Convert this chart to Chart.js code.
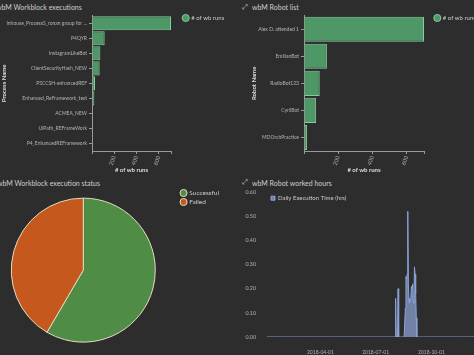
<!DOCTYPE html>
<html><head><meta charset="utf-8">
<script src="https://cdn.jsdelivr.net/npm/chart.js@4.4.0/dist/chart.umd.min.js"></script>
<style>
html,body{margin:0;padding:0;background:#2d2d2d;overflow:hidden;width:474px;height:355px;position:relative;}
canvas{position:absolute;}
.t{position:absolute;font-family:Lato;font-size:7px;line-height:10px;color:#cfcfcf;white-space:nowrap;}
.i{position:absolute;font-family:"DejaVu Sans";font-size:7px;line-height:10px;color:#cfcfcf;}
</style></head><body>
<div class="t" style="left:-4px;top:2px">wbM Workblock executions</div>
<div class="i" style="left:242px;top:2px">⤢</div>
<div class="t" style="left:252px;top:2px">wbM Robot list</div>
<div class="t" style="left:-3px;top:178px">wbM Workblock execution status</div>
<div class="i" style="left:242px;top:177px">⤢</div>
<div class="t" style="left:252px;top:178px">wbM Robot worked hours</div>

<canvas id="c1" width="228" height="175" style="left:0;top:0"></canvas>
<canvas id="c2" width="232" height="175" style="left:250px;top:0"></canvas>
<canvas id="c3" width="241" height="178" style="left:-12px;top:175px"></canvas>
<canvas id="c4" width="243" height="180" style="left:237px;top:175px"></canvas>

<script>
// ---- data ----
const processNames = ["Inhouse_ProcessS_ronan group for ...", "P4QYR", "InstagramLikeBot", "ClientSecurityHash_NEW", "PSCCSH-enhancedREF", "Enhanced_ReFramework_test", "ACMEA_NEW", "UiPath_REFrameWork", "P4_EnhancedREFramework"];
const processRuns = [711, 114, 75, 69, 27, 21, 9, 5, 3];

const robotNames = ["Alex D. attended 1", "EmilianBot", "RadioBot123", "CyrilBot", "MDOrchPractice"];
const robotRuns = [702, 134, 92, 71, 18];

const statusLabels = ["Successful", "Failed"];
const statusCounts = [604, 430];

const hoursStart = "2018-01-03";
const hoursEnd = "2018-12-20";
const hoursDates = ["2018-08-03","2018-08-07","2018-08-19","2018-08-20","2018-08-21","2018-08-22","2018-08-23","2018-08-24","2018-08-25","2018-08-26","2018-08-27","2018-08-28","2018-08-29","2018-08-30","2018-08-31","2018-09-01","2018-09-02","2018-09-03","2018-09-04","2018-09-05","2018-09-06"];
const hoursValues = [0.16, 0.20, 0.12, 0.25, 0.24, 0.26, 0.52, 0.22, 0.14, 0.16, 0.15, 0.16, 0.21, 0.20, 0.22, 0.15, 0.14, 0.29, 0.26, 0.18, 0.08];
const hoursTickLabels = ["2018-04-01", "2018-07-01", "2018-10-01"];

// ---- styling ----
const FONT = "Lato";
const tickColor = "#b4b4b4";
const axisColor = "#9a9a9a";
const barFill = "#4e9868";
const barBorder = "#86cc9f";

Chart.defaults.font.family = FONT;
Chart.defaults.animation = false;

function hbarOptions(yTitle, xMax, yWidth, padTop, topGap, legendPad) {
  return {
    indexAxis: 'y',
    responsive: false,
    maintainAspectRatio: false,
    layout: { padding: { top: padTop, left: 0, right: 0, bottom: 1 } },
    plugins: {
      legend: {
        position: 'right', align: 'start',
        labels: { usePointStyle: true, pointStyle: 'circle', boxWidth: 5, boxHeight: 5, padding: legendPad,
                  color: '#cccccc', font: { size: 6, family: FONT } }
      },
      tooltip: { enabled: false }
    },
    scales: {
      y: {
        afterFit: s => { s.width = yWidth; },
        ticks: { color: tickColor, font: { size: 5, family: FONT }, padding: 2 },
        grid: { display: true, drawOnChartArea: false, drawTicks: true, tickLength: 3, color: axisColor, offset: false },
        border: { display: true, color: axisColor },
        title: { display: true, text: yTitle, color: '#dddddd', font: { size: 6, weight: 'bold', family: FONT }, padding: 0 }
      },
      x: {
        min: 0, max: xMax,
        afterFit: s => { s.height = 23; },
        ticks: { stepSize: 200, minRotation: 70, maxRotation: 70, color: tickColor, font: { size: 5.5, family: FONT }, padding: 1,
                 callback: v => (v > 0 && v % 200 === 0) ? String(v) : '' },
        grid: { display: true, drawOnChartArea: false, drawTicks: true, tickLength: 3, color: axisColor },
        border: { display: true, color: axisColor },
        title: { display: true, text: '# of wb runs', color: '#dddddd', font: { size: 6, weight: 'bold', family: FONT }, padding: 0 }
      },
      xTop: {
        axis: 'x', position: 'top', display: true,
        afterFit: s => { s.height = topGap; },
        ticks: { display: false }, grid: { display: false, drawTicks: false }, border: { display: false }
      }
    }
  };
}

new Chart(document.getElementById('c1'), {
  type: 'bar',
  data: { labels: processNames, datasets: [{ label: '# of wb runs', data: processRuns,
    backgroundColor: barFill, borderColor: barBorder, borderWidth: 1, categoryPercentage: 0.94, barPercentage: 1 }] },
  options: hbarOptions('Process Name', Math.max(...processRuns), 92, 2.8, 12.9, 12.2)
});

new Chart(document.getElementById('c2'), {
  type: 'bar',
  data: { labels: robotNames, datasets: [{ label: '# of wb runs', data: robotRuns,
    backgroundColor: barFill, borderColor: barBorder, borderWidth: 1, categoryPercentage: 0.93, barPercentage: 1 }] },
  options: hbarOptions('Robot Name', Math.max(...robotRuns), 54, 4.2, 11.5, 10.8)
});

new Chart(document.getElementById('c3'), {
  type: 'pie',
  data: { labels: statusLabels, datasets: [{ data: statusCounts,
    backgroundColor: ['#4f8c46', '#c4581d'], borderColor: '#e6dcc0', borderWidth: 1 }] },
  options: {
    responsive: false, maintainAspectRatio: false,
    radius: 72,
    layout: { padding: { top: 12.25, bottom: 0, left: 0, right: 0 } },
    plugins: {
      legend: { position: 'right', align: 'start',
        labels: { usePointStyle: true, pointStyle: 'circle', boxWidth: 5, boxHeight: 5, padding: 2.5,
                  color: '#cccccc', font: { size: 6.5, family: FONT } } },
      tooltip: { enabled: false }
    }
  }
});

// daily category labels
function isoDay(d) { return d.toISOString().slice(0, 10); }
const dayLabels = [];
for (let d = new Date(hoursStart + "T00:00:00Z"); isoDay(d) <= hoursEnd; d.setUTCDate(d.getUTCDate() + 1)) dayLabels.push(isoDay(d));
const dailyHours = dayLabels.map(l => { const k = hoursDates.indexOf(l); return k >= 0 ? hoursValues[k] : 0; });

new Chart(document.getElementById('c4'), {
  type: 'line',
  data: { labels: dayLabels, datasets: [{ label: 'Daily Execution Time (hrs)', data: dailyHours,
    borderColor: '#8aa3d8', backgroundColor: 'rgba(140,163,214,0.72)', borderWidth: 1, pointRadius: 0, fill: 'origin', tension: 0 }] },
  options: {
    responsive: false, maintainAspectRatio: false,
    layout: { padding: { top: 17, left: 0, right: 0, bottom: 0 } },
    plugins: {
      legend: { position: 'chartArea', align: 'start',
        title: { display: true, text: '', font: { size: 1 }, padding: { top: 15, bottom: 0 } },
        labels: { boxWidth: 4, boxHeight: 4, padding: 4, color: '#cccccc', font: { size: 6, family: FONT } } },
      tooltip: { enabled: false }
    },
    scales: {
      x: {
        afterFit: s => { s.height = 18; },
        ticks: { autoSkip: false, maxRotation: 0, minRotation: 0, color: tickColor, font: { size: 5, family: FONT }, padding: 4,
                 callback: function (v, i) { const l = dayLabels[i]; return hoursTickLabels.includes(l) ? l : null; } },
        grid: { display: false }, border: { display: false }
      },
      y: {
        min: 0, max: 0.6,
        afterFit: s => { s.width = 30; },
        ticks: { stepSize: 0.1, color: tickColor, font: { size: 5.3, family: FONT }, padding: 3, callback: v => Number(v).toFixed(2) },
        grid: { display: false }, border: { display: false }
      }
    }
  }
});
</script>
</body></html>
